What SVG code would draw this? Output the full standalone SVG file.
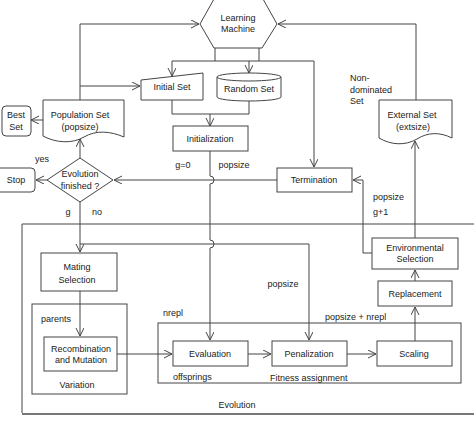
<svg xmlns="http://www.w3.org/2000/svg" width="474" height="428" viewBox="0 0 474 428">
<defs>
<style>
.n{fill:#fff;stroke:#444;stroke-width:1}
.f{fill:none;stroke:#444;stroke-width:1}
.c{fill:none;stroke:#444;stroke-width:1}
.a{marker-end:url(#arr)}
text{font-family:"Liberation Sans",Arial,sans-serif;font-size:9px;fill:#222}
.m{text-anchor:middle}
</style>
<marker id="arr" markerUnits="userSpaceOnUse" markerWidth="10" markerHeight="10" refX="8" refY="4" orient="auto">
<path d="M0,0 L8,4 L0,8" fill="none" stroke="#444" stroke-width="1"/>
</marker>
</defs>
<rect width="474" height="428" fill="#fff"/>

<g id="frames">
<path class="f" d="M474,224 H22 V413"/>
<path d="M22,414 H474" fill="none" stroke="#777" stroke-width="2"/>
<text class="m" x="237" y="408">Evolution</text>
<rect class="f" x="32" y="304" width="95" height="90"/>
<text class="m" x="77" y="388">Variation</text>
<text x="41" y="322">parents</text>
<rect class="f" x="158" y="323" width="303" height="60"/>
<text x="270" y="381">Fitness assignment</text>
</g>

<g id="connectors">
<path class="c a" d="M80,100 V24 H199"/>
<path class="c a" d="M80,86 H140"/>
<path class="c" d="M215,48 V61 M259,48 V61"/>
<path class="c a" d="M172,61 H314 V167"/>
<path class="c a" d="M172,61 V76"/>
<path class="c a" d="M249,61 V73"/>
<path class="c" d="M172,100 V114 H249 V101"/>
<path class="c a" d="M210,114 V126"/>
<path class="c a" d="M210,151 V176 A4,4 0 0 1 210,184 V240 A4,4 0 0 1 210,248 V340"/>
<path class="c a" d="M277,180 H114"/>
<path class="c a" d="M80,158 V139"/>
<path class="c a" d="M47,180 H36"/>
<path class="c a" d="M43,120 H31"/>
<path class="c a" d="M80,202 V252"/>
<path class="c a" d="M80,244 H309 V340"/>
<path class="c a" d="M80,291 V336"/>
<path class="c a" d="M117,354 H172"/>
<path class="c a" d="M248,354 H271"/>
<path class="c a" d="M347,354 H376"/>
<path class="c a" d="M415,341 V307"/>
<path class="c a" d="M415,281 V270"/>
<path class="c a" d="M415,238 V141"/>
<path class="c a" d="M372,253 H363 V180 H353"/>
<path class="c a" d="M416,100 V24 H278"/>
<text x="183" y="168" class="m">g=0</text>
<text x="234" y="168" class="m">popsize</text>
<text x="42" y="162" class="m">yes</text>
<text x="68" y="215" class="m">g</text>
<text x="97" y="215" class="m">no</text>
<text x="283" y="287" class="m">popsize</text>
<text x="163" y="316">nrepl</text>
<text x="173" y="380">offsprings</text>
<text x="325" y="320">popsize + nrepl</text>
<text x="373" y="200">popsize</text>
<text x="373" y="215">g+1</text>
<text x="350" y="81">Non-</text>
<text x="350" y="93">dominated</text>
<text x="350" y="104">Set</text>
</g>

<g id="learning-machine">
<polygon class="n" points="200,24 214,-1 263,-1 277,24 262,48 214,48"/>
<text class="m" x="238" y="21">Learning</text>
<text class="m" x="238" y="32">Machine</text>
</g>

<g id="initial-set">
<polygon class="n" points="141,80 203,73 203,100 141,100"/>
<text class="m" x="172" y="90">Initial Set</text>
</g>

<g id="random-set">
<path class="n" d="M217,77 A32,4 0 0 1 281,77 V97 A32,4 0 0 1 217,97 Z"/>
<path class="f" d="M217,77 A32,4 0 0 0 281,77"/>
<text class="m" x="249" y="92">Random Set</text>
</g>

<g id="population-set">
<path class="n" d="M43,100 H124 V137 C110,131 96,130 84,137 C72,144 56,143 43,136 Z"/>
<text class="m" x="80" y="118">Population Set</text>
<text class="m" x="80" y="130">(popsize)</text>
</g>

<g id="best-set">
<rect class="n" x="2" y="106" width="29" height="30" rx="4"/>
<text class="m" x="16" y="118">Best</text>
<text class="m" x="16" y="130">Set</text>
</g>

<g id="external-set">
<path class="n" d="M379,100 H452 V138 C440,132 428,132 417,139 C405,146 391,145 379,138 Z"/>
<text class="m" x="412" y="118">External Set</text>
<text class="m" x="413" y="130">(extsize)</text>
</g>

<g id="initialization">
<rect class="n" x="173" y="126" width="75" height="25"/>
<text class="m" x="210" y="142">Initialization</text>
</g>

<g id="termination">
<rect class="n" x="277" y="168" width="75" height="24"/>
<text class="m" x="314" y="183">Termination</text>
</g>

<g id="decision">
<polygon class="n" points="80,158 113,180 80,202 47,180"/>
<text class="m" x="80" y="177">Evolution</text>
<text class="m" x="80" y="189">finished ?</text>
</g>

<g id="stop">
<rect class="n" x="-4" y="168" width="39" height="24" rx="4"/>
<text class="m" x="16" y="183">Stop</text>
</g>

<g id="mating-selection">
<rect class="n" x="41" y="253" width="76" height="38"/>
<text class="m" x="77" y="270">Mating</text>
<text class="m" x="77" y="283">Selection</text>
</g>

<g id="recombination">
<rect class="n" x="44" y="337" width="73" height="34"/>
<text class="m" x="81" y="352">Recombination</text>
<text class="m" x="81" y="363">and Mutation</text>
</g>

<g id="evaluation">
<rect class="n" x="173" y="341" width="75" height="25"/>
<text class="m" x="210" y="357">Evaluation</text>
</g>

<g id="penalization">
<rect class="n" x="272" y="341" width="75" height="25"/>
<text class="m" x="309" y="357">Penalization</text>
</g>

<g id="scaling">
<rect class="n" x="377" y="341" width="75" height="25"/>
<text class="m" x="414" y="357">Scaling</text>
</g>

<g id="replacement">
<rect class="n" x="378" y="281" width="74" height="25"/>
<text class="m" x="415" y="297">Replacement</text>
</g>

<g id="environmental-selection">
<rect class="n" x="372" y="238" width="86" height="31"/>
<text class="m" x="415" y="251">Environmental</text>
<text class="m" x="415" y="262">Selection</text>
</g>
</svg>
